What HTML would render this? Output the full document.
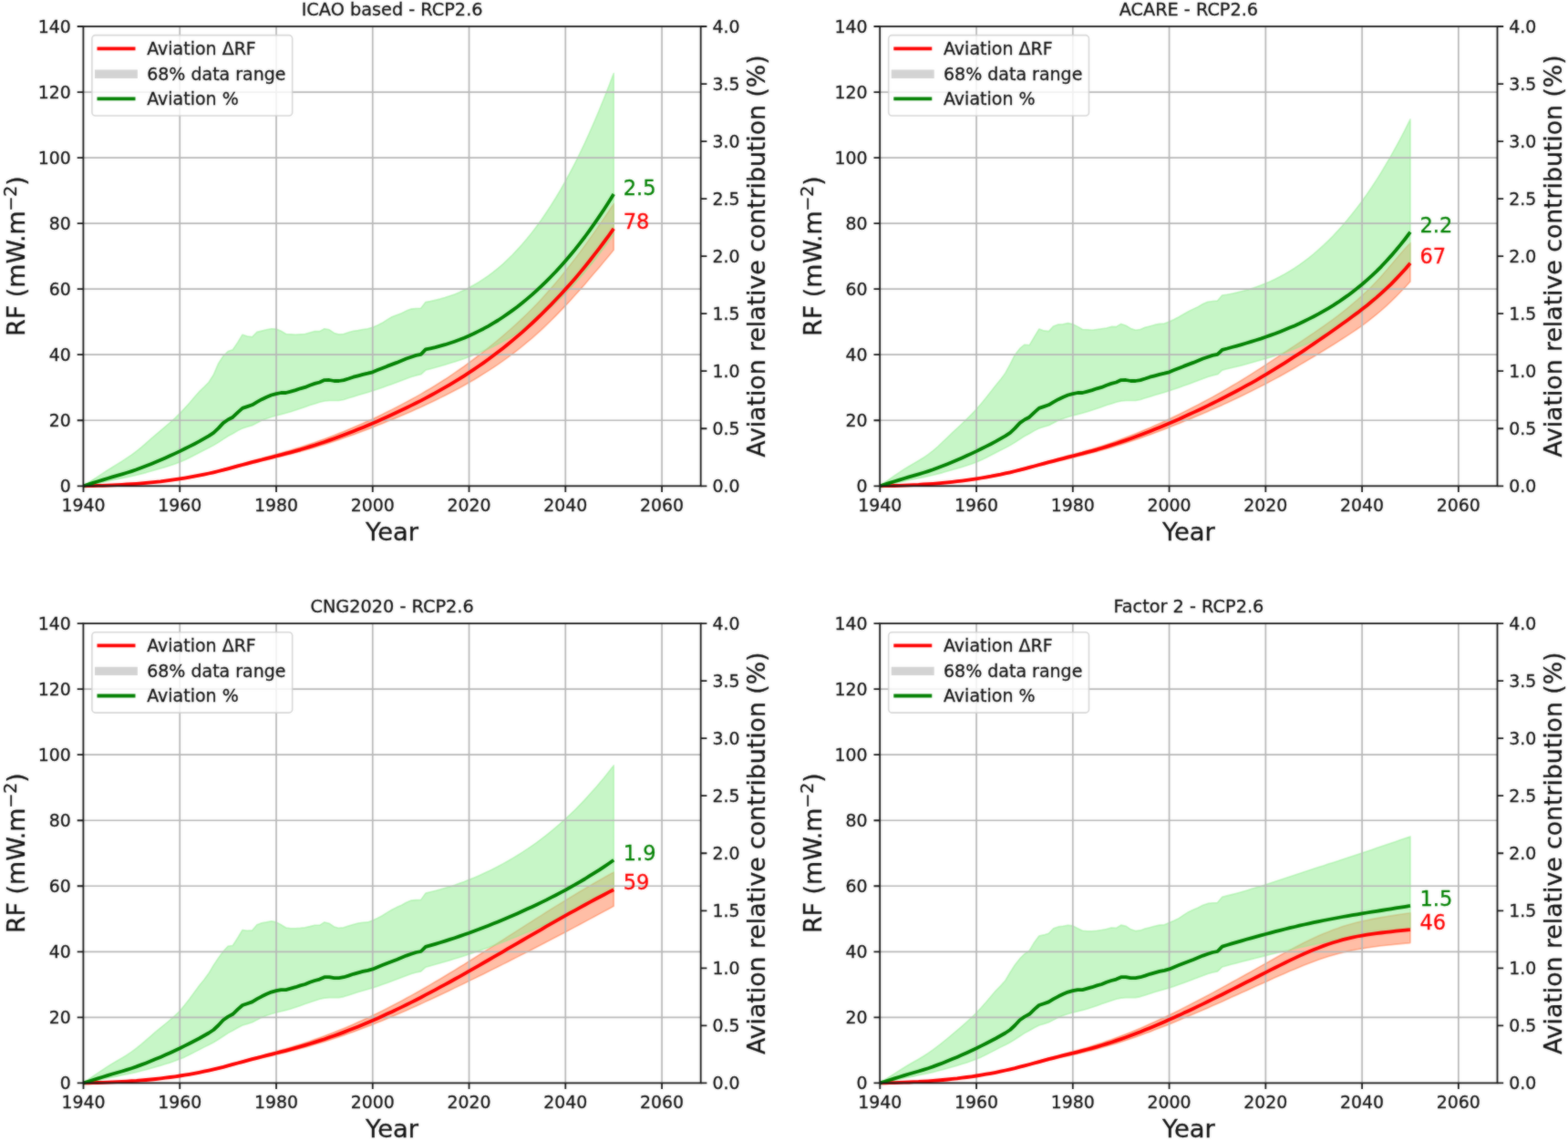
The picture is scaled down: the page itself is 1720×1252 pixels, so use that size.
<!DOCTYPE html>
<html lang="en">
<head>
<meta charset="utf-8">
<title>Aviation radiative forcing scenarios - RCP2.6</title>
<style>
html,body{margin:0;padding:0;background:#fff;}
body{width:1720px;height:1252px;overflow:hidden;}
svg{display:block;font-family:"DejaVu Sans", "Liberation Sans", sans-serif;}
</style>
</head>
<body>

<svg width="1720" height="1252" viewBox="0 0 1720 1252">
<defs><filter id="soft" x="0" y="0" width="1720" height="1252" filterUnits="userSpaceOnUse" color-interpolation-filters="sRGB"><feGaussianBlur in="SourceGraphic" stdDeviation="1" result="b"/><feComposite in="SourceGraphic" in2="b" operator="arithmetic" k1="0" k2="0.5" k3="0.5" k4="0"/></filter></defs>
<g filter="url(#soft)">
<rect width="1720" height="1252" fill="#ffffff"/>
<g transform="translate(0.0,0.0)">
<path d="M91.5,533.3 L96.8,533.2 L102.1,533.1 L107.4,532.9 L112.7,532.8 L117.9,532.6 L123.2,532.4 L128.5,532.1 L133.8,531.8 L139.1,531.5 L144.4,531.2 L149.7,530.8 L155.0,530.4 L160.2,529.9 L165.5,529.4 L170.8,528.8 L176.1,528.2 L181.4,527.6 L186.7,526.8 L192.0,526.1 L197.3,525.2 L202.5,524.3 L207.8,523.3 L213.1,522.3 L218.4,521.2 L223.7,520.1 L229.0,518.9 L234.3,517.6 L239.6,516.2 L244.9,514.8 L250.1,513.3 L255.4,511.8 L260.7,510.3 L266.0,508.8 L271.3,507.3 L276.6,505.8 L281.9,504.3 L287.2,502.8 L292.4,501.4 L297.7,499.9 L303.0,498.5 L308.3,497.0 L313.6,495.5 L318.9,493.9 L324.2,492.3 L329.5,490.7 L334.7,489.0 L340.0,487.3 L345.3,485.5 L350.6,483.6 L355.9,481.7 L361.2,479.7 L366.5,477.7 L371.8,475.6 L377.1,473.5 L382.3,471.3 L387.6,469.1 L392.9,466.8 L398.2,464.5 L403.5,462.1 L408.8,459.7 L414.1,457.2 L419.4,454.6 L424.6,452.0 L429.9,449.4 L435.2,446.7 L440.5,443.9 L445.8,441.1 L451.1,438.3 L456.4,435.4 L461.7,432.4 L466.9,429.3 L472.2,426.2 L477.5,423.0 L482.8,419.6 L488.1,416.3 L493.4,412.8 L498.7,409.2 L504.0,405.5 L509.3,401.8 L514.5,397.9 L519.8,394.0 L525.1,390.0 L530.4,385.9 L535.7,381.7 L541.0,377.4 L546.3,373.0 L551.6,368.6 L556.8,364.0 L562.1,359.4 L567.4,354.6 L572.7,349.6 L578.0,344.5 L583.3,339.3 L588.6,333.9 L593.9,328.2 L599.1,322.4 L604.4,316.4 L609.7,310.2 L615.0,303.9 L620.3,297.3 L625.6,290.6 L630.9,283.7 L636.2,276.7 L641.5,269.5 L646.7,262.2 L652.0,254.7 L657.3,247.1 L662.6,239.4 L667.9,231.5 L673.2,223.5 L673.2,274.3 L667.9,280.7 L662.6,287.1 L657.3,293.4 L652.0,299.6 L646.7,305.8 L641.5,311.9 L636.2,317.9 L630.9,323.8 L625.6,329.7 L620.3,335.4 L615.0,340.9 L609.7,346.4 L604.4,351.7 L599.1,356.8 L593.9,361.8 L588.6,366.6 L583.3,371.3 L578.0,375.7 L572.7,380.1 L567.4,384.3 L562.1,388.4 L556.8,392.3 L551.6,396.1 L546.3,399.8 L541.0,403.4 L535.7,406.8 L530.4,410.2 L525.1,413.5 L519.8,416.7 L514.5,419.7 L509.3,422.7 L504.0,425.7 L498.7,428.5 L493.4,431.3 L488.1,434.0 L482.8,436.6 L477.5,439.2 L472.2,441.8 L466.9,444.2 L461.7,446.7 L456.4,449.1 L451.1,451.4 L445.8,453.7 L440.5,456.0 L435.2,458.2 L429.9,460.4 L424.6,462.6 L419.4,464.7 L414.1,466.8 L408.8,468.9 L403.5,471.0 L398.2,473.0 L392.9,474.9 L387.6,476.9 L382.3,478.8 L377.1,480.6 L371.8,482.5 L366.5,484.2 L361.2,486.0 L355.9,487.7 L350.6,489.3 L345.3,490.9 L340.0,492.4 L334.7,493.9 L329.5,495.4 L324.2,496.8 L318.9,498.1 L313.6,499.5 L308.3,500.8 L303.0,502.0 L297.7,503.3 L292.4,504.6 L287.2,505.8 L281.9,507.1 L276.6,508.4 L271.3,509.8 L266.0,511.1 L260.7,512.5 L255.4,513.9 L250.1,515.3 L244.9,516.6 L239.6,517.9 L234.3,519.2 L229.0,520.3 L223.7,521.4 L218.4,522.5 L213.1,523.5 L207.8,524.4 L202.5,525.3 L197.3,526.1 L192.0,526.9 L186.7,527.6 L181.4,528.2 L176.1,528.8 L170.8,529.4 L165.5,529.9 L160.2,530.4 L155.0,530.8 L149.7,531.2 L144.4,531.6 L139.1,531.9 L133.8,532.2 L128.5,532.4 L123.2,532.6 L117.9,532.8 L112.7,533.0 L107.4,533.1 L102.1,533.2 L96.8,533.2 L91.5,533.3Z" fill="#ff4500" fill-opacity="0.35" stroke="#ff4500" stroke-opacity="0.35" stroke-width="1.6" stroke-linejoin="round"/>
<path d="M91.5,533.3 L96.8,529.8 L102.1,526.3 L107.4,522.9 L112.7,519.4 L117.9,516.0 L123.2,512.7 L128.5,509.4 L133.8,506.2 L139.1,502.7 L144.4,499.1 L149.7,495.1 L155.0,490.8 L160.2,486.3 L165.5,481.7 L170.8,477.1 L176.1,472.6 L181.4,468.1 L186.7,463.5 L192.0,458.8 L197.3,453.7 L202.5,448.1 L207.8,442.2 L213.1,436.0 L218.4,429.9 L223.7,424.9 L229.0,419.5 L234.3,411.2 L239.6,398.9 L244.9,390.7 L250.1,385.6 L255.4,383.8 L260.7,375.9 L266.0,367.2 L271.3,369.0 L276.6,369.8 L281.9,364.4 L287.2,363.1 L292.4,361.8 L297.7,360.8 L303.0,361.1 L308.3,363.3 L313.6,366.5 L318.9,366.9 L324.2,367.2 L329.5,366.9 L334.7,366.5 L340.0,365.1 L345.3,363.6 L350.6,363.6 L355.9,360.8 L361.2,361.8 L366.5,365.4 L371.8,366.9 L377.1,366.5 L382.3,364.7 L387.6,363.3 L392.9,362.6 L398.2,361.5 L403.5,360.8 L408.8,359.3 L414.1,357.0 L419.4,354.3 L424.6,350.9 L429.9,347.8 L435.2,345.7 L440.5,343.8 L445.8,341.1 L451.1,339.1 L456.4,338.5 L461.7,338.2 L466.9,331.6 L472.2,330.6 L477.5,329.4 L482.8,328.1 L488.1,326.6 L493.4,324.8 L498.7,322.9 L504.0,320.7 L509.3,318.3 L514.5,315.7 L519.8,312.8 L525.1,309.7 L530.4,306.2 L535.7,302.6 L541.0,298.6 L546.3,294.3 L551.6,289.8 L556.8,284.9 L562.1,279.7 L567.4,274.1 L572.7,268.3 L578.0,262.1 L583.3,255.5 L588.6,248.5 L593.9,241.2 L599.1,233.5 L604.4,225.5 L609.7,217.0 L615.0,208.1 L620.3,198.7 L625.6,189.0 L630.9,178.8 L636.2,168.2 L641.5,157.1 L646.7,145.5 L652.0,133.5 L657.3,121.0 L662.6,108.0 L667.9,94.5 L673.2,80.5 L673.2,257.0 L667.9,264.5 L662.6,271.8 L657.3,278.8 L652.0,285.7 L646.7,292.2 L641.5,298.6 L636.2,304.7 L630.9,310.6 L625.6,316.3 L620.3,321.8 L615.0,327.1 L609.7,332.1 L604.4,337.0 L599.1,341.6 L593.9,346.1 L588.6,350.3 L583.3,354.3 L578.0,358.2 L572.7,361.9 L567.4,365.3 L562.1,368.6 L556.8,371.8 L551.6,374.7 L546.3,377.5 L541.0,380.2 L535.7,382.7 L530.4,385.0 L525.1,387.3 L519.8,389.4 L514.5,391.4 L509.3,393.4 L504.0,395.2 L498.7,396.9 L493.4,398.6 L488.1,400.2 L482.8,401.8 L477.5,403.3 L472.2,404.7 L466.9,406.1 L461.7,410.8 L456.4,411.9 L451.1,413.5 L445.8,415.4 L440.5,417.5 L435.2,419.5 L429.9,421.4 L424.6,423.3 L419.4,425.2 L414.1,427.1 L408.8,428.8 L403.5,430.4 L398.2,432.0 L392.9,433.5 L387.6,435.2 L382.3,436.8 L377.1,438.5 L371.8,439.5 L366.5,439.5 L361.2,439.5 L355.9,440.0 L350.6,441.2 L345.3,442.9 L340.0,444.6 L334.7,446.5 L329.5,448.3 L324.2,450.1 L318.9,451.8 L313.6,453.3 L308.3,454.6 L303.0,455.9 L297.7,457.4 L292.4,459.2 L287.2,461.3 L281.9,464.0 L276.6,466.7 L271.3,468.3 L266.0,469.9 L260.7,472.6 L255.4,475.7 L250.1,478.5 L244.9,481.9 L239.6,485.4 L234.3,488.6 L229.0,491.4 L223.7,494.0 L218.4,496.8 L213.1,499.5 L207.8,502.2 L202.5,504.8 L197.3,507.0 L192.0,509.0 L186.7,510.8 L181.4,512.5 L176.1,514.1 L170.8,515.6 L165.5,517.1 L160.2,518.6 L155.0,519.9 L149.7,521.3 L144.4,522.5 L139.1,523.7 L133.8,524.7 L128.5,525.8 L123.2,526.8 L117.9,527.9 L112.7,529.0 L107.4,530.1 L102.1,531.1 L96.8,532.2 L91.5,533.3Z" fill="#90ee90" fill-opacity="0.5" stroke="#90ee90" stroke-opacity="0.5" stroke-width="1.6" stroke-linejoin="round"/>
<path d="M197.26,29.0V533.3M303.02,29.0V533.3M408.78,29.0V533.3M514.54,29.0V533.3M620.30,29.0V533.3M726.06,29.0V533.3M91.4,461.26H768.7M91.4,389.21H768.7M91.4,317.17H768.7M91.4,245.13H768.7M91.4,173.09H768.7M91.4,101.04H768.7" stroke="#b6b6b6" stroke-width="1.7" fill="none"/>
<path d="M91.5,533.3 L96.8,533.2 L102.1,533.1 L107.4,532.9 L112.7,532.8 L117.9,532.6 L123.2,532.4 L128.5,532.1 L133.8,531.8 L139.1,531.5 L144.4,531.2 L149.7,530.8 L155.0,530.4 L160.2,529.9 L165.5,529.4 L170.8,528.8 L176.1,528.3 L181.4,527.6 L186.7,526.9 L192.0,526.2 L197.3,525.4 L202.5,524.6 L207.8,523.7 L213.1,522.7 L218.4,521.7 L223.7,520.6 L229.0,519.5 L234.3,518.3 L239.6,517.0 L244.9,515.7 L250.1,514.3 L255.4,512.8 L260.7,511.4 L266.0,510.0 L271.3,508.6 L276.6,507.2 L281.9,505.8 L287.2,504.5 L292.4,503.1 L297.7,501.8 L303.0,500.4 L308.3,499.1 L313.6,497.7 L318.9,496.3 L324.2,494.8 L329.5,493.3 L334.7,491.7 L340.0,490.1 L345.3,488.5 L350.6,486.7 L355.9,485.0 L361.2,483.1 L366.5,481.2 L371.8,479.3 L377.1,477.3 L382.3,475.3 L387.6,473.2 L392.9,471.1 L398.2,468.9 L403.5,466.7 L408.8,464.5 L414.1,462.2 L419.4,459.8 L424.6,457.4 L429.9,455.0 L435.2,452.5 L440.5,450.0 L445.8,447.5 L451.1,444.9 L456.4,442.2 L461.7,439.6 L466.9,436.8 L472.2,434.0 L477.5,431.1 L482.8,428.2 L488.1,425.2 L493.4,422.1 L498.7,418.9 L504.0,415.7 L509.3,412.3 L514.5,408.9 L519.8,405.4 L525.1,401.8 L530.4,398.1 L535.7,394.3 L541.0,390.3 L546.3,386.3 L551.6,382.2 L556.8,378.0 L562.1,373.6 L567.4,369.1 L572.7,364.6 L578.0,359.8 L583.3,355.0 L588.6,350.0 L593.9,344.9 L599.1,339.7 L604.4,334.3 L609.7,328.8 L615.0,323.2 L620.3,317.4 L625.6,311.5 L630.9,305.4 L636.2,299.1 L641.5,292.7 L646.7,286.2 L652.0,279.4 L657.3,272.6 L662.6,265.5 L667.9,258.3 L673.2,250.9" stroke="#ff0000" stroke-width="3.8" fill="none" stroke-linejoin="round" stroke-linecap="butt"/>
<path d="M91.5,533.3 L96.8,531.6 L102.1,529.9 L107.4,528.3 L112.7,526.6 L117.9,525.0 L123.2,523.4 L128.5,521.9 L133.8,520.4 L139.1,518.8 L144.4,517.1 L149.7,515.3 L155.0,513.3 L160.2,511.3 L165.5,509.2 L170.8,507.0 L176.1,504.8 L181.4,502.5 L186.7,500.1 L192.0,497.6 L197.3,495.1 L202.5,492.5 L207.8,489.9 L213.1,487.2 L218.4,484.4 L223.7,481.4 L229.0,478.4 L234.3,474.9 L239.6,469.9 L244.9,464.1 L250.1,460.5 L255.4,457.7 L260.7,452.6 L266.0,447.9 L271.3,446.1 L276.6,444.3 L281.9,441.1 L287.2,438.2 L292.4,435.7 L297.7,433.5 L303.0,432.1 L308.3,431.0 L313.6,431.0 L318.9,429.6 L324.2,428.1 L329.5,426.3 L334.7,424.9 L340.0,422.7 L345.3,420.9 L350.6,419.5 L355.9,417.1 L361.2,417.0 L366.5,418.0 L371.8,418.0 L377.1,417.1 L382.3,415.5 L387.6,413.7 L392.9,412.3 L398.2,410.8 L403.5,409.7 L408.8,408.3 L414.1,406.1 L419.4,404.0 L424.6,401.9 L429.9,399.9 L435.2,397.9 L440.5,395.7 L445.8,393.5 L451.1,391.7 L456.4,389.9 L461.7,388.9 L466.9,383.4 L472.2,382.3 L477.5,381.1 L482.8,379.7 L488.1,378.2 L493.4,376.5 L498.7,374.7 L504.0,372.8 L509.3,370.7 L514.5,368.4 L519.8,366.0 L525.1,363.4 L530.4,360.7 L535.7,357.8 L541.0,354.7 L546.3,351.5 L551.6,348.0 L556.8,344.4 L562.1,340.6 L567.4,336.7 L572.7,332.5 L578.0,328.1 L583.3,323.6 L588.6,318.8 L593.9,313.9 L599.1,308.8 L604.4,303.5 L609.7,298.0 L615.0,292.2 L620.3,286.2 L625.6,280.0 L630.9,273.6 L636.2,266.9 L641.5,260.0 L646.7,252.8 L652.0,245.4 L657.3,237.7 L662.6,229.7 L667.9,221.5 L673.2,213.1" stroke="#008000" stroke-width="3.8" fill="none" stroke-linejoin="round" stroke-linecap="butt"/>
<path d="M91.50,533.3v6.7M197.26,533.3v6.7M303.02,533.3v6.7M408.78,533.3v6.7M514.54,533.3v6.7M620.30,533.3v6.7M726.06,533.3v6.7M91.4,533.30h-6.7M91.4,461.26h-6.7M91.4,389.21h-6.7M91.4,317.17h-6.7M91.4,245.13h-6.7M91.4,173.09h-6.7M91.4,101.04h-6.7M91.4,29.00h-6.7M768.7,533.30h6.7M768.7,470.26h6.7M768.7,407.22h6.7M768.7,344.19h6.7M768.7,281.15h6.7M768.7,218.11h6.7M768.7,155.07h6.7M768.7,92.04h6.7M768.7,29.00h6.7" stroke="#141414" stroke-width="1.8" fill="none"/>
<rect x="91.4" y="29.0" width="677.30" height="504.30" fill="none" stroke="#141414" stroke-width="1.8"/>
<g font-size="18.9" fill="#111111" stroke="#111111" stroke-width="0.3">
<text x="91.50" y="560.5" text-anchor="middle">1940</text>
<text x="197.26" y="560.5" text-anchor="middle">1960</text>
<text x="303.02" y="560.5" text-anchor="middle">1980</text>
<text x="408.78" y="560.5" text-anchor="middle">2000</text>
<text x="514.54" y="560.5" text-anchor="middle">2020</text>
<text x="620.30" y="560.5" text-anchor="middle">2040</text>
<text x="726.06" y="560.5" text-anchor="middle">2060</text>
<text x="77.8" y="539.90" text-anchor="end">0</text>
<text x="77.8" y="467.86" text-anchor="end">20</text>
<text x="77.8" y="395.81" text-anchor="end">40</text>
<text x="77.8" y="323.77" text-anchor="end">60</text>
<text x="77.8" y="251.73" text-anchor="end">80</text>
<text x="77.8" y="179.69" text-anchor="end">100</text>
<text x="77.8" y="107.64" text-anchor="end">120</text>
<text x="77.8" y="35.60" text-anchor="end">140</text>
<text x="781.4" y="539.90">0.0</text>
<text x="781.4" y="476.86">0.5</text>
<text x="781.4" y="413.82">1.0</text>
<text x="781.4" y="350.79">1.5</text>
<text x="781.4" y="287.75">2.0</text>
<text x="781.4" y="224.71">2.5</text>
<text x="781.4" y="161.67">3.0</text>
<text x="781.4" y="98.64">3.5</text>
<text x="781.4" y="35.60">4.0</text>
</g>
<text x="430.1" y="593.2" font-size="27.4" text-anchor="middle" fill="#111111" stroke="#111111" stroke-width="0.3">Year</text>
<text transform="translate(27.4,281.1) rotate(-90)" font-size="26.9" text-anchor="middle" fill="#111111" stroke="#111111" stroke-width="0.3">RF (mW.m<tspan font-size="18.8" dy="-9.5">−2</tspan><tspan dy="9.5">)</tspan></text>
<text transform="translate(839.2,281.1) rotate(-90)" font-size="26.7" text-anchor="middle" fill="#111111" stroke="#111111" stroke-width="0.3">Aviation relative contribution (%)</text>
<text x="430.1" y="17.1" font-size="19.3" text-anchor="middle" fill="#111111" stroke="#111111" stroke-width="0.3">ICAO based - RCP2.6</text>
<rect x="100.9" y="38.6" width="219.8" height="88.4" rx="3.8" fill="#ffffff" fill-opacity="0.8" stroke="#cccccc" stroke-opacity="0.8" stroke-width="1.6"/>
<path d="M106.5,53.3H148.5" stroke="#ff0000" stroke-width="3.8"/>
<path d="M104,81.3H150.9" stroke="#d3d3d3" stroke-width="9.4"/>
<path d="M106.5,108.4H148.5" stroke="#008000" stroke-width="3.8"/>
<g font-size="19" fill="#111111" stroke="#111111" stroke-width="0.3">
<text x="161.2" y="60.3">Aviation ΔRF</text>
<text x="161.2" y="87.5">68% data range</text>
<text x="161.2" y="115">Aviation %</text>
</g>
<text x="683.7" y="213.6" font-size="22.5" fill="#008000" stroke="#008000" stroke-width="0.3">2.5</text>
<text x="683.7" y="250.6" font-size="22.5" fill="#ff0000" stroke="#ff0000" stroke-width="0.3">78</text>
</g>
<g transform="translate(873.8,0.0)">
<path d="M91.5,533.3 L96.8,533.2 L102.1,533.0 L107.4,532.9 L112.7,532.7 L117.9,532.4 L123.2,532.2 L128.5,531.9 L133.8,531.6 L139.1,531.2 L144.4,530.9 L149.7,530.4 L155.0,530.0 L160.2,529.5 L165.5,528.9 L170.8,528.4 L176.1,527.7 L181.4,527.1 L186.7,526.3 L192.0,525.6 L197.3,524.8 L202.5,523.9 L207.8,522.9 L213.1,522.0 L218.4,520.9 L223.7,519.8 L229.0,518.6 L234.3,517.4 L239.6,516.1 L244.9,514.7 L250.1,513.3 L255.4,511.8 L260.7,510.4 L266.0,508.9 L271.3,507.4 L276.6,505.9 L281.9,504.4 L287.2,503.0 L292.4,501.6 L297.7,500.1 L303.0,498.7 L308.3,497.2 L313.6,495.8 L318.9,494.2 L324.2,492.7 L329.5,491.1 L334.7,489.4 L340.0,487.7 L345.3,485.9 L350.6,484.0 L355.9,482.1 L361.2,480.1 L366.5,478.1 L371.8,476.0 L377.1,473.8 L382.3,471.6 L387.6,469.4 L392.9,467.0 L398.2,464.7 L403.5,462.3 L408.8,459.8 L414.1,457.3 L419.4,454.7 L424.6,452.1 L429.9,449.5 L435.2,446.8 L440.5,444.1 L445.8,441.3 L451.1,438.4 L456.4,435.6 L461.7,432.6 L466.9,429.7 L472.2,426.6 L477.5,423.5 L482.8,420.4 L488.1,417.2 L493.4,413.9 L498.7,410.6 L504.0,407.2 L509.3,403.8 L514.5,400.4 L519.8,396.9 L525.1,393.4 L530.4,389.9 L535.7,386.4 L541.0,382.8 L546.3,379.4 L551.6,375.9 L556.8,372.4 L562.1,368.8 L567.4,365.3 L572.7,361.6 L578.0,358.0 L583.3,354.2 L588.6,350.4 L593.9,346.4 L599.1,342.3 L604.4,338.1 L609.7,333.7 L615.0,329.2 L620.3,324.4 L625.6,319.5 L630.9,314.3 L636.2,308.8 L641.5,303.1 L646.7,297.1 L652.0,290.8 L657.3,284.4 L662.6,278.2 L667.9,272.2 L673.2,266.7 L673.2,308.9 L667.9,314.7 L662.6,320.3 L657.3,325.7 L652.0,330.8 L646.7,335.8 L641.5,340.5 L636.2,344.9 L630.9,349.2 L625.6,353.3 L620.3,357.3 L615.0,361.0 L609.7,364.6 L604.4,368.1 L599.1,371.5 L593.9,374.9 L588.6,378.2 L583.3,381.5 L578.0,384.8 L572.7,388.0 L567.4,391.2 L562.1,394.4 L556.8,397.5 L551.6,400.6 L546.3,403.7 L541.0,406.7 L535.7,409.7 L530.4,412.7 L525.1,415.6 L519.8,418.4 L514.5,421.2 L509.3,423.9 L504.0,426.6 L498.7,429.3 L493.4,431.9 L488.1,434.5 L482.8,437.0 L477.5,439.5 L472.2,441.9 L466.9,444.4 L461.7,446.7 L456.4,449.1 L451.1,451.4 L445.8,453.7 L440.5,455.9 L435.2,458.2 L429.9,460.4 L424.6,462.5 L419.4,464.7 L414.1,466.8 L408.8,468.9 L403.5,470.9 L398.2,472.9 L392.9,474.9 L387.6,476.9 L382.3,478.8 L377.1,480.7 L371.8,482.5 L366.5,484.3 L361.2,486.0 L355.9,487.7 L350.6,489.3 L345.3,490.9 L340.0,492.5 L334.7,494.0 L329.5,495.4 L324.2,496.8 L318.9,498.2 L313.6,499.5 L308.3,500.8 L303.0,502.1 L297.7,503.4 L292.4,504.6 L287.2,505.9 L281.9,507.2 L276.6,508.5 L271.3,509.9 L266.0,511.2 L260.7,512.6 L255.4,514.0 L250.1,515.3 L244.9,516.7 L239.6,517.9 L234.3,519.2 L229.0,520.3 L223.7,521.4 L218.4,522.4 L213.1,523.4 L207.8,524.3 L202.5,525.2 L197.3,526.0 L192.0,526.8 L186.7,527.5 L181.4,528.1 L176.1,528.8 L170.8,529.3 L165.5,529.9 L160.2,530.3 L155.0,530.8 L149.7,531.2 L144.4,531.5 L139.1,531.9 L133.8,532.1 L128.5,532.4 L123.2,532.6 L117.9,532.8 L112.7,533.0 L107.4,533.1 L102.1,533.2 L96.8,533.2 L91.5,533.3Z" fill="#ff4500" fill-opacity="0.35" stroke="#ff4500" stroke-opacity="0.35" stroke-width="1.6" stroke-linejoin="round"/>
<path d="M91.5,533.3 L96.8,529.5 L102.1,525.7 L107.4,522.0 L112.7,518.4 L117.9,514.9 L123.2,511.7 L128.5,508.6 L133.8,505.5 L139.1,502.3 L144.4,498.7 L149.7,494.6 L155.0,490.0 L160.2,485.0 L165.5,480.0 L170.8,474.9 L176.1,470.0 L181.4,465.0 L186.7,459.9 L192.0,454.6 L197.3,449.0 L202.5,442.9 L207.8,436.4 L213.1,429.8 L218.4,423.1 L223.7,416.6 L229.0,409.4 L234.3,399.7 L239.6,389.2 L244.9,382.4 L250.1,378.2 L255.4,378.8 L260.7,369.8 L266.0,361.1 L271.3,362.9 L276.6,363.6 L281.9,357.9 L287.2,356.1 L292.4,355.7 L297.7,354.6 L303.0,355.7 L308.3,358.4 L313.6,361.5 L318.9,361.8 L324.2,362.2 L329.5,361.5 L334.7,360.8 L340.0,360.0 L345.3,358.4 L350.6,358.6 L355.9,355.4 L361.2,357.2 L366.5,360.4 L371.8,362.2 L377.1,361.5 L382.3,359.3 L387.6,357.9 L392.9,356.4 L398.2,355.4 L403.5,355.0 L408.8,353.0 L414.1,350.5 L419.4,347.8 L424.6,344.7 L429.9,341.7 L435.2,339.1 L440.5,336.6 L445.8,333.5 L451.1,331.2 L456.4,330.5 L461.7,330.1 L466.9,324.0 L472.2,323.2 L477.5,322.2 L482.8,321.1 L488.1,319.8 L493.4,318.4 L498.7,316.8 L504.0,315.0 L509.3,313.1 L514.5,311.0 L519.8,308.7 L525.1,306.2 L530.4,303.5 L535.7,300.6 L541.0,297.5 L546.3,294.2 L551.6,290.6 L556.8,286.8 L562.1,282.8 L567.4,278.5 L572.7,273.9 L578.0,269.2 L583.3,264.1 L588.6,258.8 L593.9,253.1 L599.1,247.2 L604.4,241.1 L609.7,234.6 L615.0,227.8 L620.3,220.7 L625.6,213.2 L630.9,205.5 L636.2,197.4 L641.5,189.0 L646.7,180.2 L652.0,171.1 L657.3,161.6 L662.6,151.8 L667.9,141.5 L673.2,130.9 L673.2,290.9 L667.9,296.9 L662.6,302.8 L657.3,308.4 L652.0,313.7 L646.7,318.9 L641.5,323.8 L636.2,328.5 L630.9,333.0 L625.6,337.4 L620.3,341.5 L615.0,345.4 L609.7,349.2 L604.4,352.8 L599.1,356.2 L593.9,359.5 L588.6,362.6 L583.3,365.6 L578.0,368.4 L572.7,371.1 L567.4,373.6 L562.1,376.1 L556.8,378.4 L551.6,380.6 L546.3,382.7 L541.0,384.7 L535.7,386.7 L530.4,388.5 L525.1,390.3 L519.8,391.9 L514.5,393.6 L509.3,395.1 L504.0,396.6 L498.7,398.1 L493.4,399.5 L488.1,400.9 L482.8,402.2 L477.5,403.5 L472.2,404.8 L466.9,406.1 L461.7,410.8 L456.4,411.9 L451.1,413.5 L445.8,415.4 L440.5,417.5 L435.2,419.5 L429.9,421.4 L424.6,423.3 L419.4,425.2 L414.1,427.1 L408.8,428.8 L403.5,430.4 L398.2,432.0 L392.9,433.5 L387.6,435.2 L382.3,436.8 L377.1,438.5 L371.8,439.5 L366.5,439.5 L361.2,439.5 L355.9,440.0 L350.6,441.2 L345.3,442.9 L340.0,444.6 L334.7,446.5 L329.5,448.3 L324.2,450.1 L318.9,451.8 L313.6,453.3 L308.3,454.6 L303.0,455.9 L297.7,457.4 L292.4,459.2 L287.2,461.3 L281.9,464.0 L276.6,466.7 L271.3,468.3 L266.0,469.9 L260.7,472.6 L255.4,475.7 L250.1,478.5 L244.9,481.9 L239.6,485.4 L234.3,488.6 L229.0,491.4 L223.7,494.0 L218.4,496.8 L213.1,499.5 L207.8,502.2 L202.5,504.8 L197.3,507.0 L192.0,509.0 L186.7,510.8 L181.4,512.5 L176.1,514.1 L170.8,515.6 L165.5,517.1 L160.2,518.6 L155.0,519.9 L149.7,521.3 L144.4,522.5 L139.1,523.7 L133.8,524.7 L128.5,525.8 L123.2,526.8 L117.9,527.9 L112.7,529.0 L107.4,530.1 L102.1,531.1 L96.8,532.2 L91.5,533.3Z" fill="#90ee90" fill-opacity="0.5" stroke="#90ee90" stroke-opacity="0.5" stroke-width="1.6" stroke-linejoin="round"/>
<path d="M197.26,29.0V533.3M303.02,29.0V533.3M408.78,29.0V533.3M514.54,29.0V533.3M620.30,29.0V533.3M726.06,29.0V533.3M91.4,461.26H768.7M91.4,389.21H768.7M91.4,317.17H768.7M91.4,245.13H768.7M91.4,173.09H768.7M91.4,101.04H768.7" stroke="#b6b6b6" stroke-width="1.7" fill="none"/>
<path d="M91.5,533.3 L96.8,533.2 L102.1,533.1 L107.4,533.0 L112.7,532.8 L117.9,532.6 L123.2,532.4 L128.5,532.1 L133.8,531.9 L139.1,531.5 L144.4,531.2 L149.7,530.8 L155.0,530.4 L160.2,529.9 L165.5,529.4 L170.8,528.8 L176.1,528.2 L181.4,527.6 L186.7,526.9 L192.0,526.2 L197.3,525.4 L202.5,524.5 L207.8,523.6 L213.1,522.7 L218.4,521.6 L223.7,520.6 L229.0,519.4 L234.3,518.3 L239.6,517.0 L244.9,515.7 L250.1,514.3 L255.4,512.9 L260.7,511.5 L266.0,510.0 L271.3,508.6 L276.6,507.2 L281.9,505.8 L287.2,504.4 L292.4,503.1 L297.7,501.7 L303.0,500.4 L308.3,499.0 L313.6,497.7 L318.9,496.2 L324.2,494.8 L329.5,493.3 L334.7,491.7 L340.0,490.1 L345.3,488.4 L350.6,486.7 L355.9,484.9 L361.2,483.1 L366.5,481.2 L371.8,479.3 L377.1,477.3 L382.3,475.3 L387.6,473.2 L392.9,471.1 L398.2,468.9 L403.5,466.7 L408.8,464.5 L414.1,462.2 L419.4,459.9 L424.6,457.5 L429.9,455.1 L435.2,452.6 L440.5,450.2 L445.8,447.7 L451.1,445.1 L456.4,442.5 L461.7,439.9 L466.9,437.2 L472.2,434.5 L477.5,431.8 L482.8,429.0 L488.1,426.1 L493.4,423.2 L498.7,420.3 L504.0,417.3 L509.3,414.2 L514.5,411.1 L519.8,407.9 L525.1,404.7 L530.4,401.4 L535.7,398.1 L541.0,394.7 L546.3,391.2 L551.6,387.8 L556.8,384.3 L562.1,380.7 L567.4,377.1 L572.7,373.5 L578.0,369.9 L583.3,366.2 L588.6,362.5 L593.9,358.7 L599.1,355.0 L604.4,351.2 L609.7,347.3 L615.0,343.4 L620.3,339.3 L625.6,335.2 L630.9,330.8 L636.2,326.4 L641.5,321.7 L646.7,316.8 L652.0,311.8 L657.3,306.4 L662.6,300.8 L667.9,294.9 L673.2,288.7" stroke="#ff0000" stroke-width="3.8" fill="none" stroke-linejoin="round" stroke-linecap="butt"/>
<path d="M91.5,533.3 L96.8,531.6 L102.1,529.9 L107.4,528.3 L112.7,526.6 L117.9,525.0 L123.2,523.4 L128.5,521.9 L133.8,520.4 L139.1,518.8 L144.4,517.1 L149.7,515.3 L155.0,513.3 L160.2,511.3 L165.5,509.2 L170.8,507.0 L176.1,504.8 L181.4,502.5 L186.7,500.1 L192.0,497.6 L197.3,495.1 L202.5,492.5 L207.8,489.9 L213.1,487.2 L218.4,484.4 L223.7,481.4 L229.0,478.4 L234.3,474.9 L239.6,469.9 L244.9,464.1 L250.1,460.5 L255.4,457.7 L260.7,452.6 L266.0,447.9 L271.3,446.1 L276.6,444.3 L281.9,441.1 L287.2,438.2 L292.4,435.7 L297.7,433.5 L303.0,432.1 L308.3,431.0 L313.6,431.0 L318.9,429.6 L324.2,428.1 L329.5,426.3 L334.7,424.9 L340.0,422.7 L345.3,420.9 L350.6,419.5 L355.9,417.1 L361.2,417.0 L366.5,418.0 L371.8,418.0 L377.1,417.1 L382.3,415.5 L387.6,413.7 L392.9,412.3 L398.2,410.8 L403.5,409.7 L408.8,408.3 L414.1,406.1 L419.4,404.0 L424.6,401.9 L429.9,399.9 L435.2,397.9 L440.5,395.7 L445.8,393.5 L451.1,391.7 L456.4,389.9 L461.7,388.9 L466.9,383.8 L472.2,382.5 L477.5,381.0 L482.8,379.6 L488.1,378.1 L493.4,376.5 L498.7,374.9 L504.0,373.3 L509.3,371.6 L514.5,369.8 L519.8,367.9 L525.1,366.0 L530.4,363.9 L535.7,361.8 L541.0,359.6 L546.3,357.4 L551.6,355.0 L556.8,352.5 L562.1,349.9 L567.4,347.2 L572.7,344.4 L578.0,341.4 L583.3,338.3 L588.6,335.1 L593.9,331.7 L599.1,328.1 L604.4,324.4 L609.7,320.4 L615.0,316.3 L620.3,312.0 L625.6,307.4 L630.9,302.6 L636.2,297.6 L641.5,292.3 L646.7,286.7 L652.0,280.9 L657.3,274.8 L662.6,268.4 L667.9,261.7 L673.2,254.7" stroke="#008000" stroke-width="3.8" fill="none" stroke-linejoin="round" stroke-linecap="butt"/>
<path d="M91.50,533.3v6.7M197.26,533.3v6.7M303.02,533.3v6.7M408.78,533.3v6.7M514.54,533.3v6.7M620.30,533.3v6.7M726.06,533.3v6.7M91.4,533.30h-6.7M91.4,461.26h-6.7M91.4,389.21h-6.7M91.4,317.17h-6.7M91.4,245.13h-6.7M91.4,173.09h-6.7M91.4,101.04h-6.7M91.4,29.00h-6.7M768.7,533.30h6.7M768.7,470.26h6.7M768.7,407.22h6.7M768.7,344.19h6.7M768.7,281.15h6.7M768.7,218.11h6.7M768.7,155.07h6.7M768.7,92.04h6.7M768.7,29.00h6.7" stroke="#141414" stroke-width="1.8" fill="none"/>
<rect x="91.4" y="29.0" width="677.30" height="504.30" fill="none" stroke="#141414" stroke-width="1.8"/>
<g font-size="18.9" fill="#111111" stroke="#111111" stroke-width="0.3">
<text x="91.50" y="560.5" text-anchor="middle">1940</text>
<text x="197.26" y="560.5" text-anchor="middle">1960</text>
<text x="303.02" y="560.5" text-anchor="middle">1980</text>
<text x="408.78" y="560.5" text-anchor="middle">2000</text>
<text x="514.54" y="560.5" text-anchor="middle">2020</text>
<text x="620.30" y="560.5" text-anchor="middle">2040</text>
<text x="726.06" y="560.5" text-anchor="middle">2060</text>
<text x="77.8" y="539.90" text-anchor="end">0</text>
<text x="77.8" y="467.86" text-anchor="end">20</text>
<text x="77.8" y="395.81" text-anchor="end">40</text>
<text x="77.8" y="323.77" text-anchor="end">60</text>
<text x="77.8" y="251.73" text-anchor="end">80</text>
<text x="77.8" y="179.69" text-anchor="end">100</text>
<text x="77.8" y="107.64" text-anchor="end">120</text>
<text x="77.8" y="35.60" text-anchor="end">140</text>
<text x="781.4" y="539.90">0.0</text>
<text x="781.4" y="476.86">0.5</text>
<text x="781.4" y="413.82">1.0</text>
<text x="781.4" y="350.79">1.5</text>
<text x="781.4" y="287.75">2.0</text>
<text x="781.4" y="224.71">2.5</text>
<text x="781.4" y="161.67">3.0</text>
<text x="781.4" y="98.64">3.5</text>
<text x="781.4" y="35.60">4.0</text>
</g>
<text x="430.1" y="593.2" font-size="27.4" text-anchor="middle" fill="#111111" stroke="#111111" stroke-width="0.3">Year</text>
<text transform="translate(27.4,281.1) rotate(-90)" font-size="26.9" text-anchor="middle" fill="#111111" stroke="#111111" stroke-width="0.3">RF (mW.m<tspan font-size="18.8" dy="-9.5">−2</tspan><tspan dy="9.5">)</tspan></text>
<text transform="translate(839.2,281.1) rotate(-90)" font-size="26.7" text-anchor="middle" fill="#111111" stroke="#111111" stroke-width="0.3">Aviation relative contribution (%)</text>
<text x="430.1" y="17.1" font-size="19.3" text-anchor="middle" fill="#111111" stroke="#111111" stroke-width="0.3">ACARE - RCP2.6</text>
<rect x="100.9" y="38.6" width="219.8" height="88.4" rx="3.8" fill="#ffffff" fill-opacity="0.8" stroke="#cccccc" stroke-opacity="0.8" stroke-width="1.6"/>
<path d="M106.5,53.3H148.5" stroke="#ff0000" stroke-width="3.8"/>
<path d="M104,81.3H150.9" stroke="#d3d3d3" stroke-width="9.4"/>
<path d="M106.5,108.4H148.5" stroke="#008000" stroke-width="3.8"/>
<g font-size="19" fill="#111111" stroke="#111111" stroke-width="0.3">
<text x="161.2" y="60.3">Aviation ΔRF</text>
<text x="161.2" y="87.5">68% data range</text>
<text x="161.2" y="115">Aviation %</text>
</g>
<text x="683.7" y="255.0" font-size="22.5" fill="#008000" stroke="#008000" stroke-width="0.3">2.2</text>
<text x="683.7" y="288.5" font-size="22.5" fill="#ff0000" stroke="#ff0000" stroke-width="0.3">67</text>
</g>
<g transform="translate(0.0,655.1)">
<path d="M91.5,533.3 L96.8,533.2 L102.1,533.1 L107.4,532.9 L112.7,532.7 L117.9,532.5 L123.2,532.3 L128.5,532.1 L133.8,531.8 L139.1,531.5 L144.4,531.1 L149.7,530.8 L155.0,530.3 L160.2,529.9 L165.5,529.4 L170.8,528.9 L176.1,528.3 L181.4,527.6 L186.7,526.9 L192.0,526.2 L197.3,525.4 L202.5,524.6 L207.8,523.7 L213.1,522.7 L218.4,521.7 L223.7,520.5 L229.0,519.3 L234.3,518.0 L239.6,516.6 L244.9,515.2 L250.1,513.7 L255.4,512.2 L260.7,510.7 L266.0,509.1 L271.3,507.6 L276.6,506.1 L281.9,504.6 L287.2,503.1 L292.4,501.6 L297.7,500.2 L303.0,498.7 L308.3,497.2 L313.6,495.7 L318.9,494.1 L324.2,492.5 L329.5,490.8 L334.7,489.1 L340.0,487.4 L345.3,485.5 L350.6,483.6 L355.9,481.7 L361.2,479.7 L366.5,477.6 L371.8,475.5 L377.1,473.3 L382.3,471.1 L387.6,468.8 L392.9,466.5 L398.2,464.1 L403.5,461.7 L408.8,459.2 L414.1,456.6 L419.4,454.0 L424.6,451.4 L429.9,448.7 L435.2,445.9 L440.5,443.1 L445.8,440.2 L451.1,437.3 L456.4,434.4 L461.7,431.4 L466.9,428.4 L472.2,425.3 L477.5,422.2 L482.8,419.1 L488.1,415.9 L493.4,412.7 L498.7,409.5 L504.0,406.2 L509.3,403.0 L514.5,399.7 L519.8,396.4 L525.1,393.0 L530.4,389.7 L535.7,386.3 L541.0,383.0 L546.3,379.6 L551.6,376.2 L556.8,372.8 L562.1,369.5 L567.4,366.1 L572.7,362.7 L578.0,359.3 L583.3,356.0 L588.6,352.6 L593.9,349.3 L599.1,345.9 L604.4,342.6 L609.7,339.3 L615.0,336.1 L620.3,332.8 L625.6,329.6 L630.9,326.4 L636.2,323.2 L641.5,320.1 L646.7,317.0 L652.0,313.9 L657.3,310.9 L662.6,307.9 L667.9,304.9 L673.2,302.0 L673.2,339.2 L667.9,342.1 L662.6,344.9 L657.3,347.8 L652.0,350.7 L646.7,353.5 L641.5,356.3 L636.2,359.2 L630.9,362.0 L625.6,364.8 L620.3,367.6 L615.0,370.4 L609.7,373.2 L604.4,375.9 L599.1,378.7 L593.9,381.4 L588.6,384.2 L583.3,386.9 L578.0,389.6 L572.7,392.3 L567.4,395.0 L562.1,397.7 L556.8,400.4 L551.6,403.0 L546.3,405.7 L541.0,408.3 L535.7,410.9 L530.4,413.6 L525.1,416.2 L519.8,418.8 L514.5,421.3 L509.3,423.9 L504.0,426.5 L498.7,429.0 L493.4,431.6 L488.1,434.1 L482.8,436.6 L477.5,439.1 L472.2,441.6 L466.9,444.0 L461.7,446.5 L456.4,448.9 L451.1,451.2 L445.8,453.6 L440.5,455.9 L435.2,458.2 L429.9,460.5 L424.6,462.7 L419.4,464.9 L414.1,467.0 L408.8,469.1 L403.5,471.2 L398.2,473.2 L392.9,475.2 L387.6,477.1 L382.3,479.0 L377.1,480.9 L371.8,482.7 L366.5,484.5 L361.2,486.2 L355.9,487.8 L350.6,489.5 L345.3,491.0 L340.0,492.6 L334.7,494.1 L329.5,495.5 L324.2,496.9 L318.9,498.2 L313.6,499.5 L308.3,500.8 L303.0,502.1 L297.7,503.3 L292.4,504.6 L287.2,505.8 L281.9,507.1 L276.6,508.4 L271.3,509.7 L266.0,511.1 L260.7,512.5 L255.4,513.8 L250.1,515.2 L244.9,516.5 L239.6,517.8 L234.3,519.1 L229.0,520.2 L223.7,521.3 L218.4,522.4 L213.1,523.4 L207.8,524.3 L202.5,525.1 L197.3,526.0 L192.0,526.7 L186.7,527.4 L181.4,528.1 L176.1,528.7 L170.8,529.2 L165.5,529.7 L160.2,530.2 L155.0,530.6 L149.7,531.0 L144.4,531.4 L139.1,531.7 L133.8,532.0 L128.5,532.3 L123.2,532.5 L117.9,532.7 L112.7,532.8 L107.4,533.0 L102.1,533.1 L96.8,533.2 L91.5,533.3Z" fill="#ff4500" fill-opacity="0.35" stroke="#ff4500" stroke-opacity="0.35" stroke-width="1.6" stroke-linejoin="round"/>
<path d="M91.5,533.3 L96.8,529.6 L102.1,525.9 L107.4,522.3 L112.7,518.7 L117.9,515.3 L123.2,512.0 L128.5,508.9 L133.8,505.8 L139.1,502.6 L144.4,499.1 L149.7,495.1 L155.0,490.8 L160.2,486.3 L165.5,481.7 L170.8,477.1 L176.1,472.7 L181.4,468.4 L186.7,464.0 L192.0,459.3 L197.3,454.1 L202.5,447.9 L207.8,441.1 L213.1,433.9 L218.4,426.7 L223.7,420.1 L229.0,413.0 L234.3,404.0 L239.6,396.1 L244.9,388.9 L250.1,383.1 L255.4,382.4 L260.7,374.1 L266.0,365.4 L271.3,366.2 L276.6,365.8 L281.9,359.7 L287.2,357.7 L292.4,356.8 L297.7,355.7 L303.0,356.8 L308.3,359.7 L313.6,362.9 L318.9,363.6 L324.2,363.6 L329.5,363.3 L334.7,362.6 L340.0,361.5 L345.3,360.2 L350.6,360.2 L355.9,356.8 L361.2,358.2 L366.5,361.8 L371.8,363.3 L377.1,362.6 L382.3,360.8 L387.6,359.3 L392.9,357.9 L398.2,357.2 L403.5,356.8 L408.8,354.8 L414.1,352.4 L419.4,349.6 L424.6,346.3 L429.9,343.1 L435.2,340.5 L440.5,338.1 L445.8,335.1 L451.1,333.0 L456.4,332.5 L461.7,332.3 L466.9,325.0 L472.2,323.7 L477.5,322.4 L482.8,321.0 L488.1,319.4 L493.4,317.8 L498.7,316.1 L504.0,314.2 L509.3,312.3 L514.5,310.2 L519.8,308.1 L525.1,305.8 L530.4,303.4 L535.7,301.0 L541.0,298.4 L546.3,295.7 L551.6,292.8 L556.8,289.9 L562.1,286.8 L567.4,283.6 L572.7,280.3 L578.0,276.8 L583.3,273.2 L588.6,269.5 L593.9,265.5 L599.1,261.5 L604.4,257.2 L609.7,252.8 L615.0,248.2 L620.3,243.4 L625.6,238.5 L630.9,233.4 L636.2,228.0 L641.5,222.5 L646.7,216.7 L652.0,210.8 L657.3,204.6 L662.6,198.3 L667.9,191.7 L673.2,184.8 L673.2,320.0 L667.9,323.1 L662.6,326.2 L657.3,329.1 L652.0,332.1 L646.7,334.9 L641.5,337.8 L636.2,340.5 L630.9,343.3 L625.6,346.0 L620.3,348.6 L615.0,351.2 L609.7,353.7 L604.4,356.2 L599.1,358.7 L593.9,361.1 L588.6,363.4 L583.3,365.7 L578.0,368.0 L572.7,370.2 L567.4,372.4 L562.1,374.5 L556.8,376.6 L551.6,378.7 L546.3,380.7 L541.0,382.7 L535.7,384.6 L530.4,386.5 L525.1,388.3 L519.8,390.1 L514.5,391.9 L509.3,393.6 L504.0,395.3 L498.7,397.0 L493.4,398.6 L488.1,400.2 L482.8,401.7 L477.5,403.2 L472.2,404.7 L466.9,406.1 L461.7,410.8 L456.4,411.9 L451.1,413.5 L445.8,415.4 L440.5,417.5 L435.2,419.5 L429.9,421.4 L424.6,423.3 L419.4,425.2 L414.1,427.1 L408.8,428.8 L403.5,430.4 L398.2,432.0 L392.9,433.5 L387.6,435.2 L382.3,436.8 L377.1,438.5 L371.8,439.5 L366.5,439.5 L361.2,439.5 L355.9,440.0 L350.6,441.2 L345.3,442.9 L340.0,444.6 L334.7,446.5 L329.5,448.3 L324.2,450.1 L318.9,451.8 L313.6,453.3 L308.3,454.6 L303.0,455.9 L297.7,457.4 L292.4,459.2 L287.2,461.3 L281.9,464.0 L276.6,466.7 L271.3,468.3 L266.0,469.9 L260.7,472.6 L255.4,475.7 L250.1,478.5 L244.9,481.9 L239.6,485.4 L234.3,488.6 L229.0,491.4 L223.7,494.0 L218.4,496.8 L213.1,499.5 L207.8,502.2 L202.5,504.8 L197.3,507.0 L192.0,509.0 L186.7,510.8 L181.4,512.5 L176.1,514.1 L170.8,515.6 L165.5,517.1 L160.2,518.6 L155.0,519.9 L149.7,521.3 L144.4,522.5 L139.1,523.7 L133.8,524.7 L128.5,525.8 L123.2,526.8 L117.9,527.9 L112.7,529.0 L107.4,530.1 L102.1,531.1 L96.8,532.2 L91.5,533.3Z" fill="#90ee90" fill-opacity="0.5" stroke="#90ee90" stroke-opacity="0.5" stroke-width="1.6" stroke-linejoin="round"/>
<path d="M197.26,29.0V533.3M303.02,29.0V533.3M408.78,29.0V533.3M514.54,29.0V533.3M620.30,29.0V533.3M726.06,29.0V533.3M91.4,461.26H768.7M91.4,389.21H768.7M91.4,317.17H768.7M91.4,245.13H768.7M91.4,173.09H768.7M91.4,101.04H768.7" stroke="#b6b6b6" stroke-width="1.7" fill="none"/>
<path d="M91.5,533.3 L96.8,533.2 L102.1,533.1 L107.4,532.9 L112.7,532.7 L117.9,532.5 L123.2,532.3 L128.5,532.1 L133.8,531.8 L139.1,531.5 L144.4,531.1 L149.7,530.8 L155.0,530.3 L160.2,529.9 L165.5,529.4 L170.8,528.9 L176.1,528.3 L181.4,527.6 L186.7,526.9 L192.0,526.2 L197.3,525.4 L202.5,524.6 L207.8,523.7 L213.1,522.7 L218.4,521.7 L223.7,520.6 L229.0,519.5 L234.3,518.3 L239.6,517.0 L244.9,515.7 L250.1,514.3 L255.4,512.8 L260.7,511.4 L266.0,510.0 L271.3,508.5 L276.6,507.1 L281.9,505.8 L287.2,504.4 L292.4,503.1 L297.7,501.8 L303.0,500.4 L308.3,499.1 L313.6,497.7 L318.9,496.3 L324.2,494.8 L329.5,493.3 L334.7,491.8 L340.0,490.2 L345.3,488.5 L350.6,486.8 L355.9,485.1 L361.2,483.2 L366.5,481.4 L371.8,479.5 L377.1,477.5 L382.3,475.5 L387.6,473.4 L392.9,471.3 L398.2,469.1 L403.5,466.9 L408.8,464.6 L414.1,462.3 L419.4,459.9 L424.6,457.5 L429.9,455.1 L435.2,452.5 L440.5,450.0 L445.8,447.4 L451.1,444.8 L456.4,442.1 L461.7,439.4 L466.9,436.6 L472.2,433.8 L477.5,431.0 L482.8,428.1 L488.1,425.3 L493.4,422.4 L498.7,419.4 L504.0,416.5 L509.3,413.5 L514.5,410.5 L519.8,407.5 L525.1,404.5 L530.4,401.4 L535.7,398.4 L541.0,395.3 L546.3,392.3 L551.6,389.2 L556.8,386.1 L562.1,383.1 L567.4,380.0 L572.7,376.9 L578.0,373.8 L583.3,370.8 L588.6,367.7 L593.9,364.7 L599.1,361.6 L604.4,358.6 L609.7,355.6 L615.0,352.6 L620.3,349.6 L625.6,346.6 L630.9,343.7 L636.2,340.8 L641.5,337.9 L646.7,335.0 L652.0,332.2 L657.3,329.4 L662.6,326.6 L667.9,323.8 L673.2,321.1" stroke="#ff0000" stroke-width="3.8" fill="none" stroke-linejoin="round" stroke-linecap="butt"/>
<path d="M91.5,533.3 L96.8,531.6 L102.1,529.9 L107.4,528.3 L112.7,526.6 L117.9,525.0 L123.2,523.4 L128.5,521.9 L133.8,520.4 L139.1,518.8 L144.4,517.1 L149.7,515.3 L155.0,513.3 L160.2,511.3 L165.5,509.2 L170.8,507.0 L176.1,504.8 L181.4,502.5 L186.7,500.1 L192.0,497.6 L197.3,495.1 L202.5,492.5 L207.8,489.9 L213.1,487.2 L218.4,484.4 L223.7,481.4 L229.0,478.4 L234.3,474.9 L239.6,469.9 L244.9,464.1 L250.1,460.5 L255.4,457.7 L260.7,452.6 L266.0,447.9 L271.3,446.1 L276.6,444.3 L281.9,441.1 L287.2,438.2 L292.4,435.7 L297.7,433.5 L303.0,432.1 L308.3,431.0 L313.6,431.0 L318.9,429.6 L324.2,428.1 L329.5,426.3 L334.7,424.9 L340.0,422.7 L345.3,420.9 L350.6,419.5 L355.9,417.1 L361.2,417.0 L366.5,418.0 L371.8,418.0 L377.1,417.1 L382.3,415.5 L387.6,413.7 L392.9,412.3 L398.2,410.8 L403.5,409.7 L408.8,408.3 L414.1,406.1 L419.4,404.0 L424.6,401.9 L429.9,399.9 L435.2,397.9 L440.5,395.7 L445.8,393.5 L451.1,391.7 L456.4,389.9 L461.7,388.9 L466.9,383.7 L472.2,382.2 L477.5,380.7 L482.8,379.1 L488.1,377.5 L493.4,375.8 L498.7,374.1 L504.0,372.3 L509.3,370.4 L514.5,368.6 L519.8,366.6 L525.1,364.7 L530.4,362.6 L535.7,360.6 L541.0,358.5 L546.3,356.3 L551.6,354.1 L556.8,351.9 L562.1,349.6 L567.4,347.3 L572.7,344.9 L578.0,342.5 L583.3,340.1 L588.6,337.6 L593.9,335.0 L599.1,332.5 L604.4,329.8 L609.7,327.1 L615.0,324.3 L620.3,321.5 L625.6,318.5 L630.9,315.6 L636.2,312.5 L641.5,309.4 L646.7,306.1 L652.0,302.8 L657.3,299.5 L662.6,296.0 L667.9,292.4 L673.2,288.7" stroke="#008000" stroke-width="3.8" fill="none" stroke-linejoin="round" stroke-linecap="butt"/>
<path d="M91.50,533.3v6.7M197.26,533.3v6.7M303.02,533.3v6.7M408.78,533.3v6.7M514.54,533.3v6.7M620.30,533.3v6.7M726.06,533.3v6.7M91.4,533.30h-6.7M91.4,461.26h-6.7M91.4,389.21h-6.7M91.4,317.17h-6.7M91.4,245.13h-6.7M91.4,173.09h-6.7M91.4,101.04h-6.7M91.4,29.00h-6.7M768.7,533.30h6.7M768.7,470.26h6.7M768.7,407.22h6.7M768.7,344.19h6.7M768.7,281.15h6.7M768.7,218.11h6.7M768.7,155.07h6.7M768.7,92.04h6.7M768.7,29.00h6.7" stroke="#141414" stroke-width="1.8" fill="none"/>
<rect x="91.4" y="29.0" width="677.30" height="504.30" fill="none" stroke="#141414" stroke-width="1.8"/>
<g font-size="18.9" fill="#111111" stroke="#111111" stroke-width="0.3">
<text x="91.50" y="560.5" text-anchor="middle">1940</text>
<text x="197.26" y="560.5" text-anchor="middle">1960</text>
<text x="303.02" y="560.5" text-anchor="middle">1980</text>
<text x="408.78" y="560.5" text-anchor="middle">2000</text>
<text x="514.54" y="560.5" text-anchor="middle">2020</text>
<text x="620.30" y="560.5" text-anchor="middle">2040</text>
<text x="726.06" y="560.5" text-anchor="middle">2060</text>
<text x="77.8" y="539.90" text-anchor="end">0</text>
<text x="77.8" y="467.86" text-anchor="end">20</text>
<text x="77.8" y="395.81" text-anchor="end">40</text>
<text x="77.8" y="323.77" text-anchor="end">60</text>
<text x="77.8" y="251.73" text-anchor="end">80</text>
<text x="77.8" y="179.69" text-anchor="end">100</text>
<text x="77.8" y="107.64" text-anchor="end">120</text>
<text x="77.8" y="35.60" text-anchor="end">140</text>
<text x="781.4" y="539.90">0.0</text>
<text x="781.4" y="476.86">0.5</text>
<text x="781.4" y="413.82">1.0</text>
<text x="781.4" y="350.79">1.5</text>
<text x="781.4" y="287.75">2.0</text>
<text x="781.4" y="224.71">2.5</text>
<text x="781.4" y="161.67">3.0</text>
<text x="781.4" y="98.64">3.5</text>
<text x="781.4" y="35.60">4.0</text>
</g>
<text x="430.1" y="593.2" font-size="27.4" text-anchor="middle" fill="#111111" stroke="#111111" stroke-width="0.3">Year</text>
<text transform="translate(27.4,281.1) rotate(-90)" font-size="26.9" text-anchor="middle" fill="#111111" stroke="#111111" stroke-width="0.3">RF (mW.m<tspan font-size="18.8" dy="-9.5">−2</tspan><tspan dy="9.5">)</tspan></text>
<text transform="translate(839.2,281.1) rotate(-90)" font-size="26.7" text-anchor="middle" fill="#111111" stroke="#111111" stroke-width="0.3">Aviation relative contribution (%)</text>
<text x="430.1" y="17.1" font-size="19.3" text-anchor="middle" fill="#111111" stroke="#111111" stroke-width="0.3">CNG2020 - RCP2.6</text>
<rect x="100.9" y="38.6" width="219.8" height="88.4" rx="3.8" fill="#ffffff" fill-opacity="0.8" stroke="#cccccc" stroke-opacity="0.8" stroke-width="1.6"/>
<path d="M106.5,53.3H148.5" stroke="#ff0000" stroke-width="3.8"/>
<path d="M104,81.3H150.9" stroke="#d3d3d3" stroke-width="9.4"/>
<path d="M106.5,108.4H148.5" stroke="#008000" stroke-width="3.8"/>
<g font-size="19" fill="#111111" stroke="#111111" stroke-width="0.3">
<text x="161.2" y="60.3">Aviation ΔRF</text>
<text x="161.2" y="87.5">68% data range</text>
<text x="161.2" y="115">Aviation %</text>
</g>
<text x="683.7" y="288.8" font-size="22.5" fill="#008000" stroke="#008000" stroke-width="0.3">1.9</text>
<text x="683.7" y="320.8" font-size="22.5" fill="#ff0000" stroke="#ff0000" stroke-width="0.3">59</text>
</g>
<g transform="translate(873.8,655.1)">
<path d="M91.5,533.3 L96.8,533.2 L102.1,533.1 L107.4,533.0 L112.7,532.8 L117.9,532.6 L123.2,532.4 L128.5,532.1 L133.8,531.9 L139.1,531.5 L144.4,531.2 L149.7,530.8 L155.0,530.4 L160.2,529.9 L165.5,529.4 L170.8,528.8 L176.1,528.3 L181.4,527.6 L186.7,526.9 L192.0,526.2 L197.3,525.3 L202.5,524.4 L207.8,523.5 L213.1,522.5 L218.4,521.4 L223.7,520.2 L229.0,519.0 L234.3,517.8 L239.6,516.4 L244.9,515.0 L250.1,513.6 L255.4,512.1 L260.7,510.5 L266.0,509.0 L271.3,507.5 L276.6,506.0 L281.9,504.5 L287.2,503.0 L292.4,501.6 L297.7,500.2 L303.0,498.7 L308.3,497.3 L313.6,495.8 L318.9,494.3 L324.2,492.7 L329.5,491.0 L334.7,489.3 L340.0,487.5 L345.3,485.7 L350.6,483.7 L355.9,481.7 L361.2,479.7 L366.5,477.6 L371.8,475.4 L377.1,473.2 L382.3,470.9 L387.6,468.5 L392.9,466.1 L398.2,463.7 L403.5,461.2 L408.8,458.7 L414.1,456.1 L419.4,453.5 L424.6,450.8 L429.9,448.2 L435.2,445.4 L440.5,442.7 L445.8,439.9 L451.1,437.1 L456.4,434.3 L461.7,431.4 L466.9,428.5 L472.2,425.6 L477.5,422.7 L482.8,419.8 L488.1,416.9 L493.4,413.9 L498.7,411.0 L504.0,408.0 L509.3,405.0 L514.5,402.1 L519.8,399.1 L525.1,396.2 L530.4,393.2 L535.7,390.3 L541.0,387.5 L546.3,384.7 L551.6,381.9 L556.8,379.2 L562.1,376.6 L567.4,374.1 L572.7,371.7 L578.0,369.4 L583.3,367.3 L588.6,365.2 L593.9,363.3 L599.1,361.5 L604.4,359.9 L609.7,358.4 L615.0,357.0 L620.3,355.8 L625.6,354.6 L630.9,353.5 L636.2,352.5 L641.5,351.5 L646.7,350.6 L652.0,349.8 L657.3,349.0 L662.6,348.2 L667.9,347.4 L673.2,346.7 L673.2,379.5 L667.9,380.0 L662.6,380.5 L657.3,381.0 L652.0,381.6 L646.7,382.1 L641.5,382.7 L636.2,383.4 L630.9,384.1 L625.6,384.9 L620.3,385.8 L615.0,386.7 L609.7,387.7 L604.4,388.8 L599.1,390.1 L593.9,391.4 L588.6,392.9 L583.3,394.5 L578.0,396.2 L572.7,398.0 L567.4,399.9 L562.1,401.9 L556.8,404.0 L551.6,406.1 L546.3,408.3 L541.0,410.5 L535.7,412.8 L530.4,415.2 L525.1,417.5 L519.8,419.9 L514.5,422.3 L509.3,424.7 L504.0,427.0 L498.7,429.4 L493.4,431.8 L488.1,434.2 L482.8,436.6 L477.5,439.0 L472.2,441.4 L466.9,443.8 L461.7,446.1 L456.4,448.5 L451.1,450.8 L445.8,453.1 L440.5,455.5 L435.2,457.7 L429.9,460.0 L424.6,462.2 L419.4,464.5 L414.1,466.6 L408.8,468.8 L403.5,470.9 L398.2,473.0 L392.9,475.0 L387.6,477.1 L382.3,479.0 L377.1,480.9 L371.8,482.8 L366.5,484.6 L361.2,486.4 L355.9,488.1 L350.6,489.8 L345.3,491.4 L340.0,493.0 L334.7,494.5 L329.5,495.9 L324.2,497.3 L318.9,498.6 L313.6,499.8 L308.3,501.1 L303.0,502.3 L297.7,503.5 L292.4,504.7 L287.2,505.9 L281.9,507.1 L276.6,508.4 L271.3,509.7 L266.0,511.0 L260.7,512.4 L255.4,513.7 L250.1,515.1 L244.9,516.4 L239.6,517.6 L234.3,518.8 L229.0,520.0 L223.7,521.0 L218.4,522.0 L213.1,523.0 L207.8,523.9 L202.5,524.8 L197.3,525.6 L192.0,526.3 L186.7,527.0 L181.4,527.7 L176.1,528.3 L170.8,528.9 L165.5,529.4 L160.2,529.9 L155.0,530.4 L149.7,530.8 L144.4,531.2 L139.1,531.5 L133.8,531.9 L128.5,532.1 L123.2,532.4 L117.9,532.6 L112.7,532.8 L107.4,533.0 L102.1,533.1 L96.8,533.2 L91.5,533.3Z" fill="#ff4500" fill-opacity="0.35" stroke="#ff4500" stroke-opacity="0.35" stroke-width="1.6" stroke-linejoin="round"/>
<path d="M91.5,533.3 L96.8,529.8 L102.1,526.4 L107.4,523.0 L112.7,519.7 L117.9,516.4 L123.2,513.2 L128.5,510.2 L133.8,507.1 L139.1,503.9 L144.4,500.5 L149.7,496.8 L155.0,492.8 L160.2,488.7 L165.5,484.4 L170.8,480.0 L176.1,475.5 L181.4,471.0 L186.7,466.3 L192.0,461.4 L197.3,456.2 L202.5,450.6 L207.8,444.7 L213.1,438.4 L218.4,432.1 L223.7,426.8 L229.0,420.9 L234.3,411.9 L239.6,403.6 L244.9,396.8 L250.1,391.7 L255.4,388.1 L260.7,379.1 L266.0,371.9 L271.3,370.8 L276.6,369.2 L281.9,363.6 L287.2,361.8 L292.4,361.1 L297.7,360.2 L303.0,360.8 L308.3,363.6 L313.6,366.2 L318.9,366.7 L324.2,366.7 L329.5,366.2 L334.7,365.4 L340.0,364.4 L345.3,362.9 L350.6,363.3 L355.9,360.0 L361.2,361.1 L366.5,364.7 L371.8,366.5 L377.1,365.8 L382.3,364.0 L387.6,362.6 L392.9,361.1 L398.2,360.0 L403.5,359.7 L408.8,357.5 L414.1,355.2 L419.4,352.5 L424.6,349.0 L429.9,345.6 L435.2,343.2 L440.5,340.9 L445.8,338.2 L451.1,336.3 L456.4,335.7 L461.7,335.5 L466.9,329.1 L472.2,327.8 L477.5,326.5 L482.8,325.1 L488.1,323.6 L493.4,322.1 L498.7,320.5 L504.0,318.9 L509.3,317.3 L514.5,315.6 L519.8,313.9 L525.1,312.2 L530.4,310.4 L535.7,308.7 L541.0,306.9 L546.3,305.2 L551.6,303.5 L556.8,301.7 L562.1,300.0 L567.4,298.2 L572.7,296.5 L578.0,294.8 L583.3,293.0 L588.6,291.3 L593.9,289.6 L599.1,287.8 L604.4,286.1 L609.7,284.3 L615.0,282.6 L620.3,280.8 L625.6,279.1 L630.9,277.3 L636.2,275.5 L641.5,273.7 L646.7,271.9 L652.0,270.1 L657.3,268.3 L662.6,266.5 L667.9,264.7 L673.2,262.8 L673.2,364.0 L667.9,364.6 L662.6,365.2 L657.3,365.8 L652.0,366.5 L646.7,367.2 L641.5,367.9 L636.2,368.7 L630.9,369.5 L625.6,370.3 L620.3,371.2 L615.0,372.1 L609.7,373.0 L604.4,373.9 L599.1,374.9 L593.9,375.9 L588.6,376.9 L583.3,378.0 L578.0,379.0 L572.7,380.1 L567.4,381.3 L562.1,382.4 L556.8,383.6 L551.6,384.7 L546.3,385.9 L541.0,387.2 L535.7,388.4 L530.4,389.6 L525.1,390.9 L519.8,392.2 L514.5,393.5 L509.3,394.8 L504.0,396.2 L498.7,397.5 L493.4,398.8 L488.1,400.2 L482.8,401.6 L477.5,403.0 L472.2,404.4 L466.9,405.8 L461.7,410.8 L456.4,411.9 L451.1,413.5 L445.8,415.4 L440.5,417.5 L435.2,419.5 L429.9,421.4 L424.6,423.3 L419.4,425.2 L414.1,427.1 L408.8,428.8 L403.5,430.4 L398.2,432.0 L392.9,433.5 L387.6,435.2 L382.3,436.8 L377.1,438.5 L371.8,439.5 L366.5,439.5 L361.2,439.5 L355.9,440.0 L350.6,441.2 L345.3,442.9 L340.0,444.6 L334.7,446.5 L329.5,448.3 L324.2,450.1 L318.9,451.8 L313.6,453.3 L308.3,454.6 L303.0,455.9 L297.7,457.4 L292.4,459.2 L287.2,461.3 L281.9,464.0 L276.6,466.7 L271.3,468.3 L266.0,469.9 L260.7,472.6 L255.4,475.7 L250.1,478.5 L244.9,481.9 L239.6,485.4 L234.3,488.6 L229.0,491.4 L223.7,494.0 L218.4,496.8 L213.1,499.5 L207.8,502.2 L202.5,504.8 L197.3,507.0 L192.0,509.0 L186.7,510.8 L181.4,512.5 L176.1,514.1 L170.8,515.6 L165.5,517.1 L160.2,518.6 L155.0,519.9 L149.7,521.3 L144.4,522.5 L139.1,523.7 L133.8,524.7 L128.5,525.8 L123.2,526.8 L117.9,527.9 L112.7,529.0 L107.4,530.1 L102.1,531.1 L96.8,532.2 L91.5,533.3Z" fill="#90ee90" fill-opacity="0.5" stroke="#90ee90" stroke-opacity="0.5" stroke-width="1.6" stroke-linejoin="round"/>
<path d="M197.26,29.0V533.3M303.02,29.0V533.3M408.78,29.0V533.3M514.54,29.0V533.3M620.30,29.0V533.3M726.06,29.0V533.3M91.4,461.26H768.7M91.4,389.21H768.7M91.4,317.17H768.7M91.4,245.13H768.7M91.4,173.09H768.7M91.4,101.04H768.7" stroke="#b6b6b6" stroke-width="1.7" fill="none"/>
<path d="M91.5,533.3 L96.8,533.2 L102.1,533.1 L107.4,533.0 L112.7,532.8 L117.9,532.6 L123.2,532.4 L128.5,532.1 L133.8,531.9 L139.1,531.5 L144.4,531.2 L149.7,530.8 L155.0,530.4 L160.2,529.9 L165.5,529.4 L170.8,528.8 L176.1,528.3 L181.4,527.6 L186.7,526.9 L192.0,526.2 L197.3,525.4 L202.5,524.5 L207.8,523.6 L213.1,522.7 L218.4,521.7 L223.7,520.6 L229.0,519.4 L234.3,518.2 L239.6,517.0 L244.9,515.6 L250.1,514.3 L255.4,512.9 L260.7,511.4 L266.0,510.0 L271.3,508.6 L276.6,507.1 L281.9,505.8 L287.2,504.4 L292.4,503.1 L297.7,501.8 L303.0,500.5 L308.3,499.2 L313.6,497.8 L318.9,496.4 L324.2,495.0 L329.5,493.5 L334.7,491.9 L340.0,490.3 L345.3,488.6 L350.6,486.8 L355.9,485.0 L361.2,483.1 L366.5,481.1 L371.8,479.1 L377.1,477.1 L382.3,475.0 L387.6,472.8 L392.9,470.6 L398.2,468.4 L403.5,466.1 L408.8,463.7 L414.1,461.4 L419.4,459.0 L424.6,456.5 L429.9,454.1 L435.2,451.6 L440.5,449.0 L445.8,446.5 L451.1,443.9 L456.4,441.3 L461.7,438.7 L466.9,436.1 L472.2,433.4 L477.5,430.8 L482.8,428.1 L488.1,425.4 L493.4,422.7 L498.7,420.1 L504.0,417.4 L509.3,414.7 L514.5,412.0 L519.8,409.3 L525.1,406.6 L530.4,404.0 L535.7,401.4 L541.0,398.8 L546.3,396.3 L551.6,393.8 L556.8,391.4 L562.1,389.1 L567.4,386.9 L572.7,384.8 L578.0,382.8 L583.3,380.9 L588.6,379.2 L593.9,377.6 L599.1,376.1 L604.4,374.7 L609.7,373.5 L615.0,372.4 L620.3,371.5 L625.6,370.6 L630.9,369.8 L636.2,369.0 L641.5,368.4 L646.7,367.7 L652.0,367.2 L657.3,366.6 L662.6,366.1 L667.9,365.6 L673.2,365.1" stroke="#ff0000" stroke-width="3.8" fill="none" stroke-linejoin="round" stroke-linecap="butt"/>
<path d="M91.5,533.3 L96.8,531.6 L102.1,529.9 L107.4,528.3 L112.7,526.6 L117.9,525.0 L123.2,523.4 L128.5,521.9 L133.8,520.4 L139.1,518.8 L144.4,517.1 L149.7,515.3 L155.0,513.3 L160.2,511.3 L165.5,509.2 L170.8,507.0 L176.1,504.8 L181.4,502.5 L186.7,500.1 L192.0,497.6 L197.3,495.1 L202.5,492.5 L207.8,489.9 L213.1,487.2 L218.4,484.4 L223.7,481.4 L229.0,478.4 L234.3,474.9 L239.6,469.9 L244.9,464.1 L250.1,460.5 L255.4,457.7 L260.7,452.6 L266.0,447.9 L271.3,446.1 L276.6,444.3 L281.9,441.1 L287.2,438.2 L292.4,435.7 L297.7,433.5 L303.0,432.1 L308.3,431.0 L313.6,431.0 L318.9,429.6 L324.2,428.1 L329.5,426.3 L334.7,424.9 L340.0,422.7 L345.3,420.9 L350.6,419.5 L355.9,417.1 L361.2,417.0 L366.5,418.0 L371.8,418.0 L377.1,417.1 L382.3,415.5 L387.6,413.7 L392.9,412.3 L398.2,410.8 L403.5,409.7 L408.8,408.3 L414.1,406.1 L419.4,404.0 L424.6,401.9 L429.9,399.9 L435.2,397.9 L440.5,395.7 L445.8,393.5 L451.1,391.7 L456.4,389.9 L461.7,388.9 L466.9,383.5 L472.2,381.9 L477.5,380.3 L482.8,378.8 L488.1,377.3 L493.4,375.7 L498.7,374.2 L504.0,372.8 L509.3,371.3 L514.5,369.9 L519.8,368.5 L525.1,367.1 L530.4,365.8 L535.7,364.4 L541.0,363.1 L546.3,361.9 L551.6,360.6 L556.8,359.4 L562.1,358.3 L567.4,357.1 L572.7,356.0 L578.0,354.9 L583.3,353.9 L588.6,352.9 L593.9,351.9 L599.1,350.9 L604.4,350.0 L609.7,349.1 L615.0,348.2 L620.3,347.3 L625.6,346.4 L630.9,345.6 L636.2,344.7 L641.5,343.9 L646.7,343.0 L652.0,342.2 L657.3,341.3 L662.6,340.5 L667.9,339.7 L673.2,338.8" stroke="#008000" stroke-width="3.8" fill="none" stroke-linejoin="round" stroke-linecap="butt"/>
<path d="M91.50,533.3v6.7M197.26,533.3v6.7M303.02,533.3v6.7M408.78,533.3v6.7M514.54,533.3v6.7M620.30,533.3v6.7M726.06,533.3v6.7M91.4,533.30h-6.7M91.4,461.26h-6.7M91.4,389.21h-6.7M91.4,317.17h-6.7M91.4,245.13h-6.7M91.4,173.09h-6.7M91.4,101.04h-6.7M91.4,29.00h-6.7M768.7,533.30h6.7M768.7,470.26h6.7M768.7,407.22h6.7M768.7,344.19h6.7M768.7,281.15h6.7M768.7,218.11h6.7M768.7,155.07h6.7M768.7,92.04h6.7M768.7,29.00h6.7" stroke="#141414" stroke-width="1.8" fill="none"/>
<rect x="91.4" y="29.0" width="677.30" height="504.30" fill="none" stroke="#141414" stroke-width="1.8"/>
<g font-size="18.9" fill="#111111" stroke="#111111" stroke-width="0.3">
<text x="91.50" y="560.5" text-anchor="middle">1940</text>
<text x="197.26" y="560.5" text-anchor="middle">1960</text>
<text x="303.02" y="560.5" text-anchor="middle">1980</text>
<text x="408.78" y="560.5" text-anchor="middle">2000</text>
<text x="514.54" y="560.5" text-anchor="middle">2020</text>
<text x="620.30" y="560.5" text-anchor="middle">2040</text>
<text x="726.06" y="560.5" text-anchor="middle">2060</text>
<text x="77.8" y="539.90" text-anchor="end">0</text>
<text x="77.8" y="467.86" text-anchor="end">20</text>
<text x="77.8" y="395.81" text-anchor="end">40</text>
<text x="77.8" y="323.77" text-anchor="end">60</text>
<text x="77.8" y="251.73" text-anchor="end">80</text>
<text x="77.8" y="179.69" text-anchor="end">100</text>
<text x="77.8" y="107.64" text-anchor="end">120</text>
<text x="77.8" y="35.60" text-anchor="end">140</text>
<text x="781.4" y="539.90">0.0</text>
<text x="781.4" y="476.86">0.5</text>
<text x="781.4" y="413.82">1.0</text>
<text x="781.4" y="350.79">1.5</text>
<text x="781.4" y="287.75">2.0</text>
<text x="781.4" y="224.71">2.5</text>
<text x="781.4" y="161.67">3.0</text>
<text x="781.4" y="98.64">3.5</text>
<text x="781.4" y="35.60">4.0</text>
</g>
<text x="430.1" y="593.2" font-size="27.4" text-anchor="middle" fill="#111111" stroke="#111111" stroke-width="0.3">Year</text>
<text transform="translate(27.4,281.1) rotate(-90)" font-size="26.9" text-anchor="middle" fill="#111111" stroke="#111111" stroke-width="0.3">RF (mW.m<tspan font-size="18.8" dy="-9.5">−2</tspan><tspan dy="9.5">)</tspan></text>
<text transform="translate(839.2,281.1) rotate(-90)" font-size="26.7" text-anchor="middle" fill="#111111" stroke="#111111" stroke-width="0.3">Aviation relative contribution (%)</text>
<text x="430.1" y="17.1" font-size="19.3" text-anchor="middle" fill="#111111" stroke="#111111" stroke-width="0.3">Factor 2 - RCP2.6</text>
<rect x="100.9" y="38.6" width="219.8" height="88.4" rx="3.8" fill="#ffffff" fill-opacity="0.8" stroke="#cccccc" stroke-opacity="0.8" stroke-width="1.6"/>
<path d="M106.5,53.3H148.5" stroke="#ff0000" stroke-width="3.8"/>
<path d="M104,81.3H150.9" stroke="#d3d3d3" stroke-width="9.4"/>
<path d="M106.5,108.4H148.5" stroke="#008000" stroke-width="3.8"/>
<g font-size="19" fill="#111111" stroke="#111111" stroke-width="0.3">
<text x="161.2" y="60.3">Aviation ΔRF</text>
<text x="161.2" y="87.5">68% data range</text>
<text x="161.2" y="115">Aviation %</text>
</g>
<text x="683.7" y="338.5" font-size="22.5" fill="#008000" stroke="#008000" stroke-width="0.3">1.5</text>
<text x="683.7" y="364.8" font-size="22.5" fill="#ff0000" stroke="#ff0000" stroke-width="0.3">46</text>
</g>
</g>
</svg>
</body>
</html>
